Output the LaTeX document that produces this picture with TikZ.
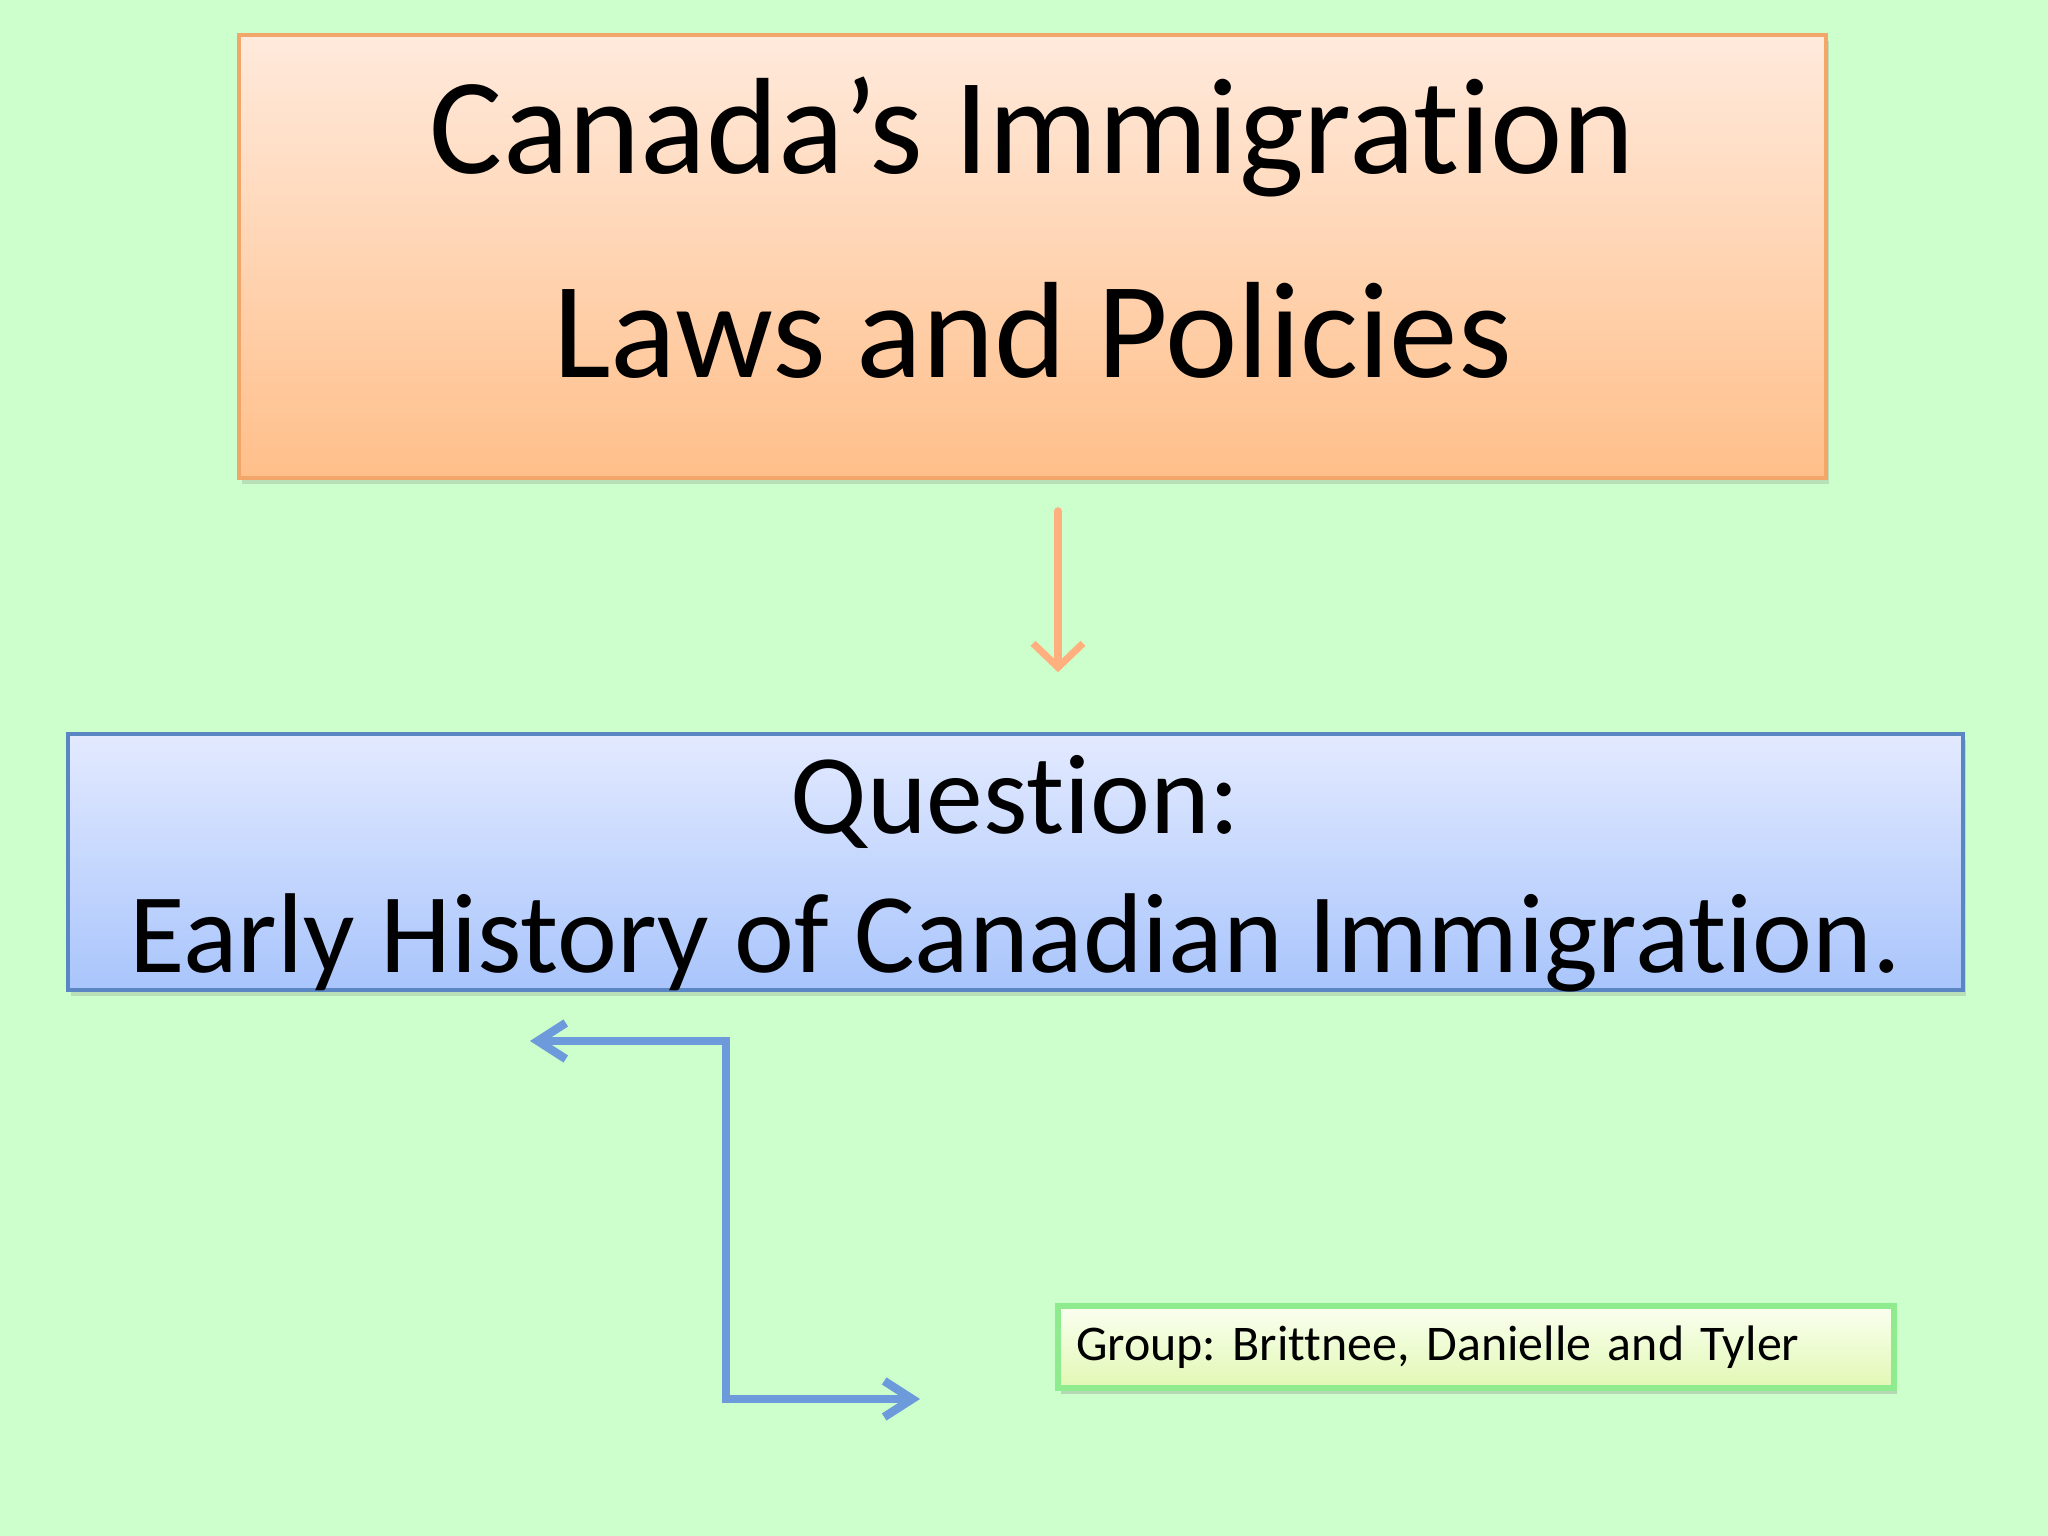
\documentclass[tikz,border=0pt]{standalone}
\usepackage{fontspec}
\setmainfont{Carlito}[Ligatures=NoCommon]
\frenchspacing
\usetikzlibrary{arrows.meta,shadows}

\definecolor{SlideGreen}{HTML}{CCFFCC}
\definecolor{TitleTop}{HTML}{FFEADC}
\definecolor{TitleBottom}{HTML}{FFBF8A}
\definecolor{TitleBorder}{HTML}{F2A66A}
\definecolor{QuestTop}{HTML}{E3EAFF}
\definecolor{QuestBottom}{HTML}{A9C5FC}
\definecolor{QuestBorder}{HTML}{5A86C4}
\definecolor{GroupTop}{HTML}{FAFFF0}
\definecolor{GroupBottom}{HTML}{E2F8B4}
\definecolor{GroupBorder}{HTML}{8EEB8E}
\definecolor{ArrowOrange}{HTML}{FFB07E}
\definecolor{ArrowBlue}{HTML}{6C9ADA}

\begin{document}
\begin{tikzpicture}
[
TitleBox/.style={rectangle, draw=TitleBorder, line width=1pt, top color=TitleTop, bottom color=TitleBottom,
    drop shadow={shadow xshift=0.3mm, shadow yshift=-0.6mm, opacity=0.25},
    minimum width=15.87cm, minimum height=4.43cm},
QuestBox/.style={rectangle, draw=QuestBorder, line width=1pt, top color=QuestTop, bottom color=QuestBottom,
    drop shadow={shadow xshift=0.3mm, shadow yshift=-0.6mm, opacity=0.25},
    minimum width=18.95cm, minimum height=2.56cm},
GroupBox/.style={rectangle, draw=GroupBorder, line width=1.5pt, top color=GroupTop, bottom color=GroupBottom,
    drop shadow={shadow xshift=0.3mm, shadow yshift=-0.6mm, opacity=0.3},
    minimum width=8.36cm, minimum height=0.82cm, text width=8.0cm, inner xsep=0.18cm, align=left,
    font=\fontsize{14.2}{17}\selectfont},
TitleText/.style={align=center, font=\fontsize{39}{58}\selectfont},
QuestText/.style={align=center, font=\fontsize{32.3}{39.5}\selectfont},
OrangeArrow/.style={-{Straight Barb[length=2.4mm, width=5mm]}, line width=2pt, draw=ArrowOrange, line cap=round},
BlueArrow/.style={{Straight Barb[length=2.8mm, width=3.6mm]}-{Straight Barb[length=2.8mm, width=3.6mm]},
    line width=2.4pt, draw=ArrowBlue, line cap=round, line join=miter},
]

\fill[SlideGreen] (0,0) rectangle (20.48,15.36);
\useasboundingbox (0,0) rectangle (20.48,15.36);

\node[TitleBox] (title) at (10.325,12.795) {};
\node[TitleText] (titletext) at (10.325,13.08) {Canada’s Immigration\\Laws and Policies};
\node[QuestBox] (question) at (10.155,6.74) {};
\node[QuestText] (questtext) at (10.155,6.62) {Question:\\Early History of Canadian Immigration.};
\node[GroupBox] (group) at (14.76,1.89) {Group: Brittnee, Danielle and Tyler};

\coordinate (ax) at (10.58,0);
\draw[OrangeArrow, shorten <=0.31cm, shorten >=0.6cm] (title.south -| ax) -- (question.north -| ax);

%% elbow connector below the question
\coordinate (leftend) at (5.30,4.95);
\coordinate (rightend) at (9.20,1.37);
\draw[BlueArrow] (leftend) -- (7.26,4.95) -- (7.26,1.37) -- (rightend);

\end{tikzpicture}
\end{document}
